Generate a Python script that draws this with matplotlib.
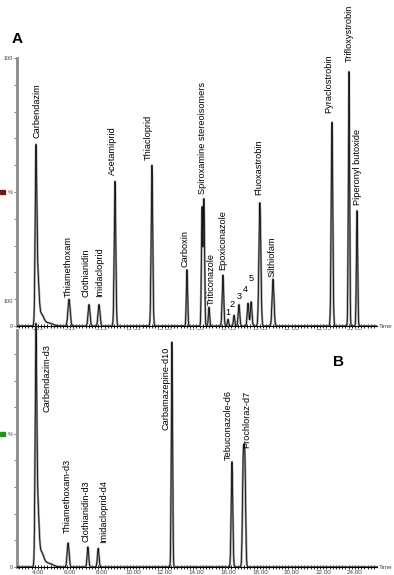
import matplotlib.pyplot as plt
import numpy as np
from matplotlib.ticker import MultipleLocator, FixedLocator

plt.rcParams["font.family"] = ["Liberation Sans", "DejaVu Sans"]

# --- Panel A peaks: retention time [min], relative abundance [%], width [min] ---
A_TIMES = [3.87, 3.98, 4.20, 4.60, 5.96, 7.22, 7.85, 8.86, 11.19, 13.40, 14.35, 14.47,
           14.79, 15.67, 15.99, 16.37, 16.68, 17.25, 17.45, 18.00, 18.83,
           22.55, 23.62, 24.13]
A_HEIGHTS = [60, 18, 4, 1.2, 10, 8, 8, 54, 60, 21, 44, 47,
             7, 19, 2.5, 4, 8, 8.5, 9, 46, 17.5,
             76, 95, 43]
A_WIDTHS = [0.05, 0.08, 0.15, 0.30, 0.07, 0.06, 0.06, 0.05, 0.05, 0.04, 0.04, 0.04,
            0.04, 0.05, 0.04, 0.04, 0.05, 0.05, 0.05, 0.06, 0.06,
            0.05, 0.04, 0.04]

A_LABELS = ["Carbendazim", "Thiamethoxam", "Clothianidin", "Imidacloprid",
            "Acetamiprid", "Thiacloprid", "Carboxin", "Spiroxamine stereoisomers",
            "Triticonazole", "Epoxiconazole", "Fluoxastrobin", "Silthiofam",
            "Pyraclostrobin", "Trifloxystrobin", "Piperonyl butoxide"]
A_LABEL_X = [3.94, 5.89, 7.03, 7.91, 8.73, 10.94, 13.27, 14.41,
             14.91, 15.67, 17.94, 18.76, 22.36, 23.62, 24.19]
A_LABEL_Y = [70.1, 10.8, 10.8, 10.8, 56.3, 61.9, 22.0, 49.3,
             7.8, 20.9, 48.9, 18.3, 79.5, 98.5, 45.1]

NUM_LABELS = ["1", "2", "3", "4", "5"]
NUM_X = [15.99, 16.24, 16.68, 17.06, 17.44]
NUM_Y = [4.9, 8.2, 11.2, 13.8, 17.9]

# --- Panel B peaks (internal standards) ---
B_TIMES = [3.87, 3.98, 4.20, 4.60, 5.90, 7.15, 7.80, 12.45, 16.24, 16.95, 17.05]
B_HEIGHTS = [82, 22, 5, 1.5, 9, 7.5, 7, 84.5, 39.5, 38, 38]
B_WIDTHS = [0.05, 0.08, 0.15, 0.30, 0.06, 0.05, 0.05, 0.04, 0.05, 0.05, 0.05]

B_LABELS = ["Carbendazim-d3", "Thiamethoxam-d3", "Clothianidin-d3", "Imidacloprid-d4",
            "Carbamazepine-d10", "Tebuconazole-d6", "Prochloraz-d7"]
B_LABEL_X = [4.57, 5.83, 7.03, 8.16, 12.08, 15.99, 17.19]
B_LABEL_Y = [58.3, 12.8, 9.4, 9.0, 51.5, 40.2, 44.7]

X_MIN, X_MAX = 2.675, 25.39
MAJOR_TICKS = [4, 6, 8, 10, 12, 14, 16, 18, 20, 22, 24]
LABEL_SIZE = 6.6


def trace(times, heights, widths):
    t = np.linspace(X_MIN, X_MAX, 6000)
    y = np.zeros_like(t)
    for rt, h, w in zip(times, heights, widths):
        y += h * np.exp(-0.5 * ((t - rt) / w) ** 2)
    return t, y


def style_axis(ax, ytop):
    ax.set_xlim(X_MIN, X_MAX)
    ax.set_ylim(0, ytop)
    for s in ("top", "right"):
        ax.spines[s].set_visible(False)
    ax.spines["left"].set_color("#8a8a8a")
    ax.spines["left"].set_linewidth(2.0)
    ax.spines["bottom"].set_linewidth(0.8)
    ax.xaxis.set_major_locator(FixedLocator(MAJOR_TICKS))
    ax.xaxis.set_minor_locator(MultipleLocator(0.2))
    ax.set_xticklabels([f"{v:.2f}" for v in MAJOR_TICKS])
    ax.tick_params(axis="x", which="both", direction="inout", length=3, width=0.6,
                   labelsize=4.5, labelcolor="#444444", pad=1)
    ax.yaxis.set_minor_locator(MultipleLocator(10))
    ax.tick_params(axis="y", which="both", direction="out", length=2, width=0.6,
                   color="#666666", labelsize=4, labelcolor="#444444", pad=1)
    ax.text(1.005, 0, "Time", transform=ax.transAxes, fontsize=4.5, color="#444444",
            va="center", ha="left")


fig = plt.figure(figsize=(3.94, 5.75), dpi=100)
ax_a = fig.add_axes([0.0431, 0.4330, 0.9138, 0.4661])
ax_b = fig.add_axes([0.0431, 0.0139, 0.9138, 0.4122])

# --- Panel A ---
t, y = trace(A_TIMES, A_HEIGHTS, A_WIDTHS)
ax_a.plot(t, y, color="#9a9a9a", lw=1.6, zorder=2)
ax_a.plot(t, y, color="black", lw=0.55, zorder=3)
style_axis(ax_a, 100)
ax_a.yaxis.set_major_locator(FixedLocator([0, 50, 100]))
ax_a.set_yticklabels(["0", "%", "100"])
ax_a.text(2.45, 9, "100", fontsize=4, color="#444444", ha="right", va="center")
for name, x, yl in zip(A_LABELS, A_LABEL_X, A_LABEL_Y):
    ax_a.text(x, yl, name, rotation=90, ha="center", va="bottom", fontsize=LABEL_SIZE,
              clip_on=False)
for name, x, yl in zip(NUM_LABELS, NUM_X, NUM_Y):
    ax_a.text(x, yl, name, ha="center", va="center", fontsize=LABEL_SIZE)
ax_a.text(0.0, 1.07, "A", transform=ax_a.transAxes, fontsize=11, fontweight="bold",
          ha="center", va="center")

# --- Panel B ---
t, y = trace(B_TIMES, B_HEIGHTS, B_WIDTHS)
ax_b.plot(t, y, color="#9a9a9a", lw=1.6, zorder=2, clip_on=False)
ax_b.plot(t, y, color="black", lw=0.55, zorder=3, clip_on=False)
style_axis(ax_b, 89)
ax_b.yaxis.set_major_locator(FixedLocator([0, 50]))
ax_b.set_yticklabels(["0", "%"])
for name, x, yl in zip(B_LABELS, B_LABEL_X, B_LABEL_Y):
    ax_b.text(x, yl, name, rotation=90, ha="center", va="bottom", fontsize=LABEL_SIZE)
ax_b.text(22.99, 77, "B", fontsize=11, fontweight="bold", ha="center", va="center")

# colour markers in the left margin
fig.patches.append(plt.Rectangle((0.0, 1 - 194 / 575), 5 / 394, 4 / 575,
                                 transform=fig.transFigure, color="#7a1515"))
fig.patches.append(plt.Rectangle((0.0, 1 - 436 / 575), 5 / 394, 4 / 575,
                                 transform=fig.transFigure, color="#1a9a1a"))

fig.savefig("out.png", dpi=100)
